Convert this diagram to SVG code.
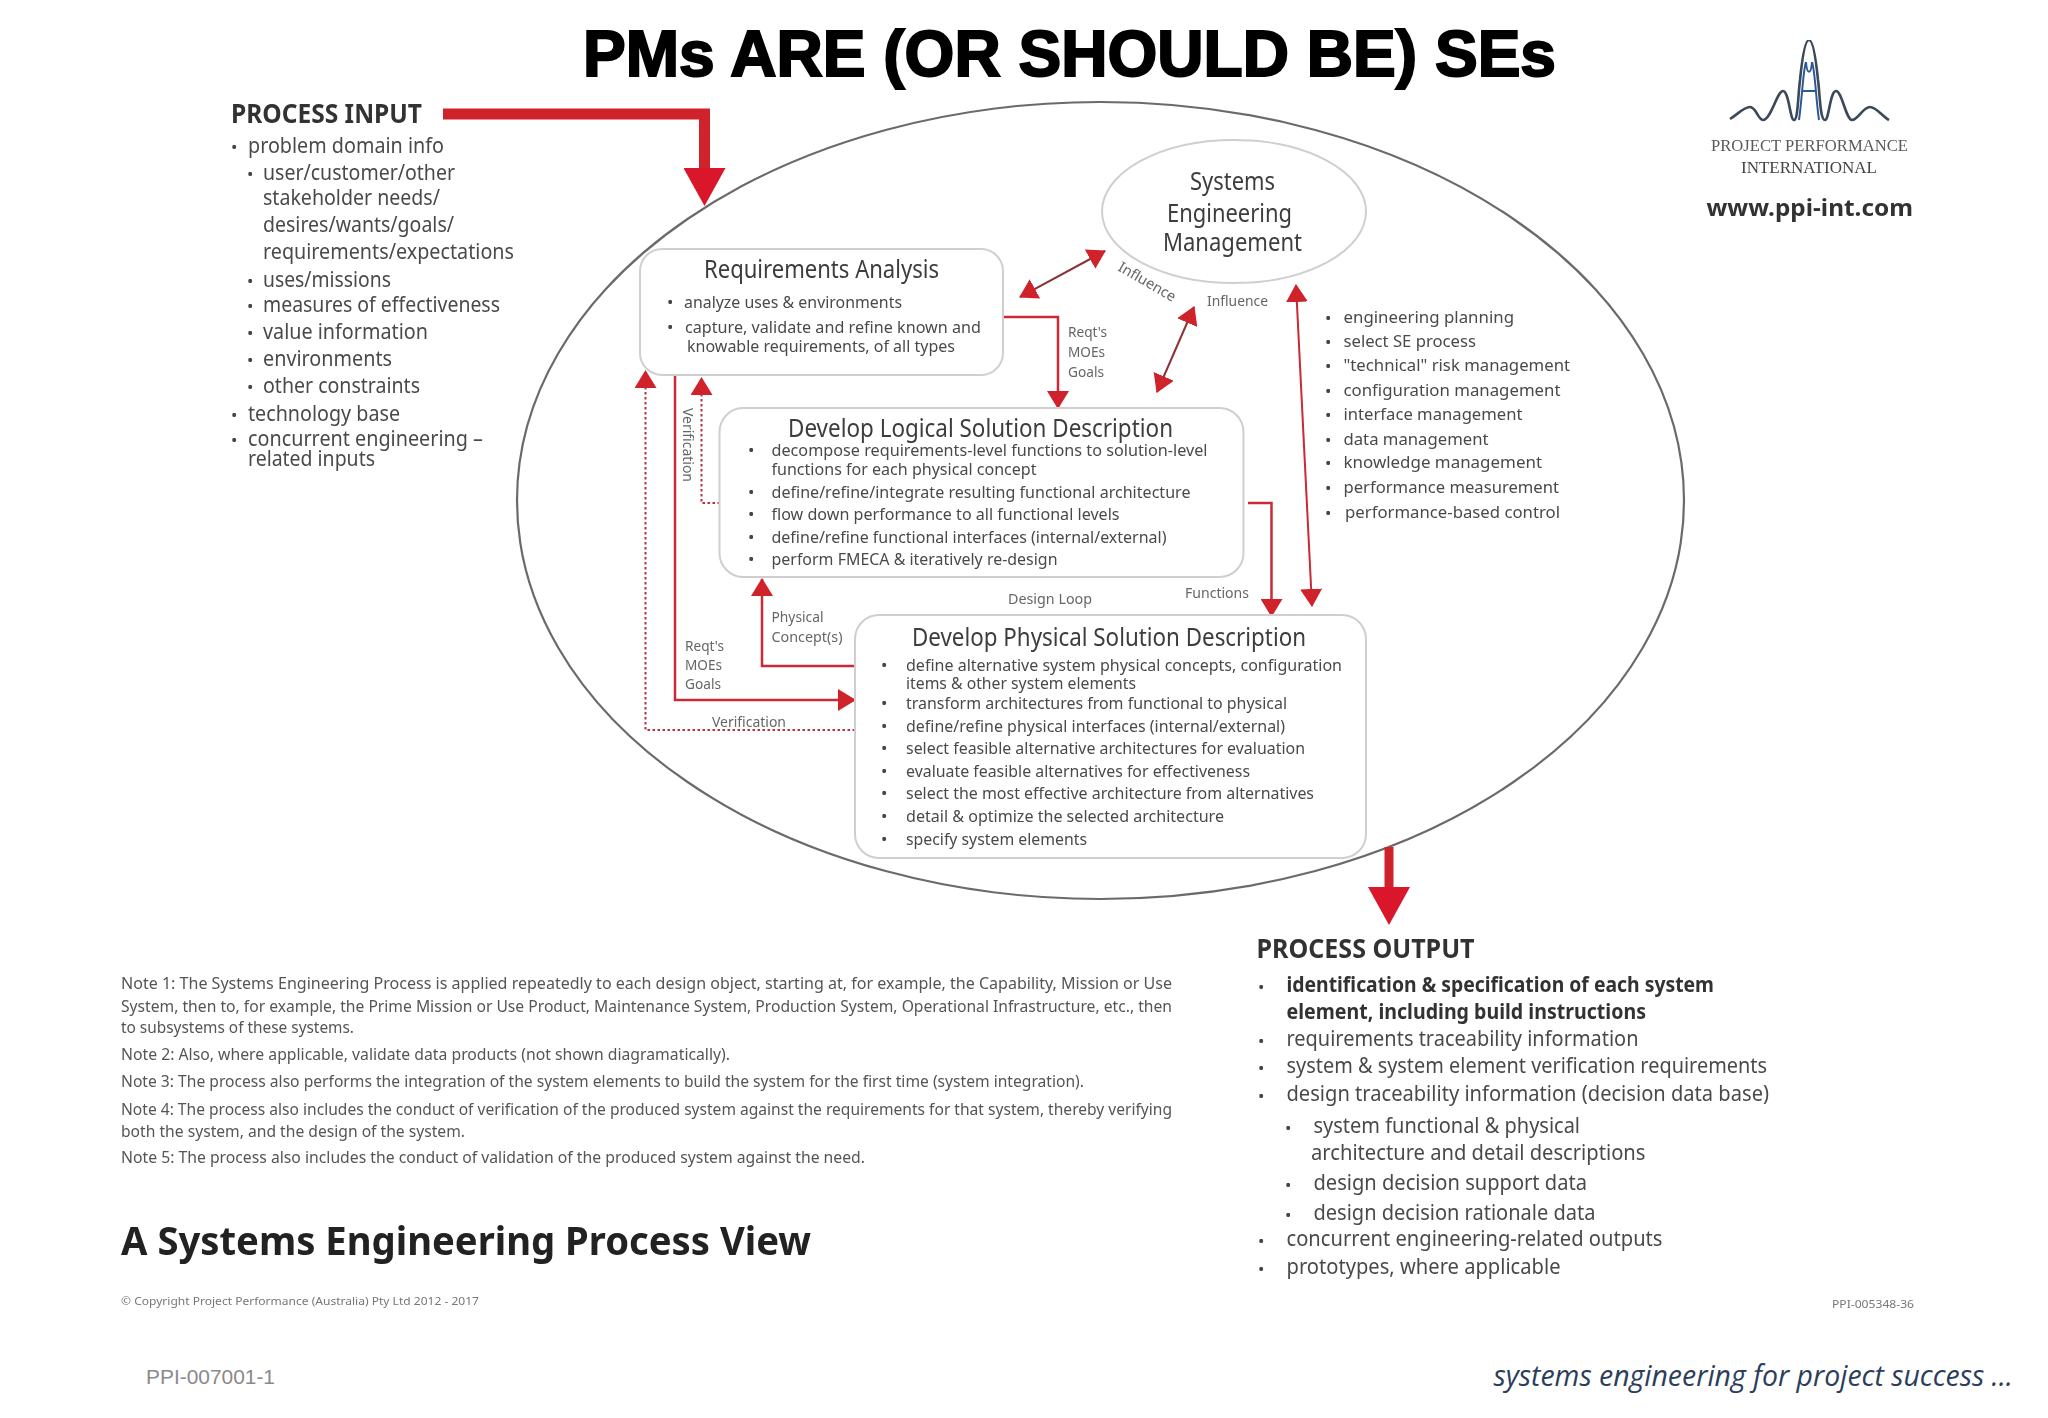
<svg xmlns="http://www.w3.org/2000/svg" width="2048" height="1418" viewBox="0 0 2048 1418">
<style>
text{font-family:"Noto Sans","Open Sans","DejaVu Sans",sans-serif;fill:#4a4a4a}
.title{font-family:"Liberation Sans",Arial,sans-serif;font-weight:700;font-size:64px;fill:#000;stroke:#000;stroke-width:2}
.h{font-weight:700;font-size:26px;fill:#333}
.l{font-size:22px}
.lb{font-size:22px;font-weight:700;fill:#333}
.bt{font-size:25px;fill:#3c3c3c}
.i{font-size:17px}
.s{font-size:14.5px;fill:#666}
.n{font-size:15.5px;fill:#555}
.d{font-size:17px;fill:#444}
.box{fill:#fff;stroke:#cfcfcf;stroke-width:2}
.wire{fill:none;stroke:#c92a34;stroke-width:2.5}
.big{fill:none;stroke:#d0202c;stroke-width:11}
.dash{fill:none;stroke:#b83040;stroke-width:2;stroke-dasharray:2.5 2.5}
.dark{fill:none;stroke:#8a3038;stroke-width:2}
#requirements-analysis text:not(.d),#develop-logical-solution text:not(.d),#develop-physical-solution text:not(.d),#systems-engineering-management text{transform:translateY(1px)}
#requirements-analysis .d,#develop-logical-solution .d,#develop-physical-solution .d,#management-activities .d{transform:translateY(1px)}
#process-output text.l:not(.d),#process-output text.lb{transform:translateY(-1px)}
</style>
<defs>
<filter id="soft" x="0" y="0" width="1" height="1"><feGaussianBlur stdDeviation="0.55"/></filter>
<marker id="ah" markerUnits="userSpaceOnUse" markerWidth="20" markerHeight="22" refX="17" refY="11" orient="auto-start-reverse"><path d="M0 0L18 11L0 22Z" fill="#d0202c"/></marker>
<marker id="bh" markerUnits="userSpaceOnUse" markerWidth="40" markerHeight="42" refX="1" refY="21" orient="auto"><path d="M0 0L38 21L0 42Z" fill="#d9162a"/></marker>
</defs>
<rect width="2048" height="1418" fill="#fff"/>
<text class="title" x="583" y="76" textLength="973" lengthAdjust="spacingAndGlyphs">PMs ARE (OR SHOULD BE) SEs</text>

<g filter="url(#soft)">
<ellipse id="process-boundary" cx="1100.5" cy="500.5" rx="583.5" ry="398.5" fill="#fff" stroke="#6a6a6a" stroke-width="2.2"/>

<g id="process-input">
<text class="h" x="231" y="123" textLength="191" lengthAdjust="spacingAndGlyphs">PROCESS INPUT</text>
<text class="d" x="231" y="153">•</text><text class="l" x="248" y="153" textLength="196" lengthAdjust="spacingAndGlyphs">problem domain info</text>
<text class="d" x="247" y="180">•</text><text class="l" x="263" y="180" textLength="192" lengthAdjust="spacingAndGlyphs">user/customer/other</text>
<text class="l" x="263" y="205" textLength="177" lengthAdjust="spacingAndGlyphs">stakeholder needs/</text>
<text class="l" x="263" y="232" textLength="191" lengthAdjust="spacingAndGlyphs">desires/wants/goals/</text>
<text class="l" x="263" y="259" textLength="251" lengthAdjust="spacingAndGlyphs">requirements/expectations</text>
<text class="d" x="247" y="287">•</text><text class="l" x="263" y="287" textLength="128" lengthAdjust="spacingAndGlyphs">uses/missions</text>
<text class="d" x="247" y="312">•</text><text class="l" x="263" y="312" textLength="237" lengthAdjust="spacingAndGlyphs">measures of effectiveness</text>
<text class="d" x="247" y="339">•</text><text class="l" x="263" y="339" textLength="165" lengthAdjust="spacingAndGlyphs">value information</text>
<text class="d" x="247" y="366">•</text><text class="l" x="263" y="366" textLength="129" lengthAdjust="spacingAndGlyphs">environments</text>
<text class="d" x="247" y="393">•</text><text class="l" x="263" y="393" textLength="157" lengthAdjust="spacingAndGlyphs">other constraints</text>
<text class="d" x="231" y="421">•</text><text class="l" x="248" y="421" textLength="152" lengthAdjust="spacingAndGlyphs">technology base</text>
<text class="d" x="231" y="446">•</text><text class="l" x="248" y="446" textLength="235" lengthAdjust="spacingAndGlyphs">concurrent engineering –</text>
<text class="l" x="248" y="466" textLength="127" lengthAdjust="spacingAndGlyphs">related inputs</text>
</g>

<g id="connectors">
<path class="big" d="M443 114H704.5V169" marker-end="url(#bh)"/>
<path class="big" style="stroke-width:9" d="M1389 847V888" marker-end="url(#bh)"/>
<path class="wire" d="M1003 317H1058V408" marker-end="url(#ah)"/>
<path class="wire" d="M1248 503H1271.5V616" marker-end="url(#ah)"/>
<path class="wire" d="M855 666H762V579" marker-end="url(#ah)"/>
<path class="wire" d="M675 375V700H855" marker-end="url(#ah)"/>
<path class="dash" d="M855 730H645.5V371" marker-end="url(#ah)"/>
<path class="dash" d="M720 503H701.5V378" marker-end="url(#ah)"/>
<path class="dark" d="M1020 297L1105 251" marker-start="url(#ah)" marker-end="url(#ah)"/>
<path class="dark" d="M1157 392L1194 307" marker-start="url(#ah)" marker-end="url(#ah)"/>
<path class="wire" style="stroke-width:2" d="M1296 285L1312 606" marker-start="url(#ah)" marker-end="url(#ah)"/>
</g>

<g id="systems-engineering-management">
<ellipse class="box" cx="1234" cy="211.5" rx="132" ry="71.5"/>
<text class="bt" x="1190" y="189" textLength="85" lengthAdjust="spacingAndGlyphs">Systems</text>
<text class="bt" x="1167" y="221" textLength="125" lengthAdjust="spacingAndGlyphs">Engineering</text>
<text class="bt" x="1163" y="250" textLength="139" lengthAdjust="spacingAndGlyphs">Management</text>
</g>

<g id="requirements-analysis">
<rect class="box" x="640" y="249" width="363" height="126" rx="22"/>
<text class="bt" x="704" y="277" textLength="235" lengthAdjust="spacingAndGlyphs">Requirements Analysis</text>
<text class="d" x="667" y="307">•</text><text class="i" x="684" y="307" textLength="218" lengthAdjust="spacingAndGlyphs">analyze uses &amp; environments</text>
<text class="d" x="667" y="332">•</text><text class="i" x="685" y="332" textLength="296" lengthAdjust="spacingAndGlyphs">capture, validate and refine known and</text>
<text class="i" x="687" y="351" textLength="268" lengthAdjust="spacingAndGlyphs">knowable requirements, of all types</text>
</g>

<g id="develop-logical-solution">
<rect class="box" x="719.5" y="408" width="524" height="169" rx="24"/>
<text class="bt" x="788" y="436" textLength="385" lengthAdjust="spacingAndGlyphs">Develop Logical Solution Description</text>
<text class="d" x="748" y="455">•</text><text class="i" x="771.5" y="455" textLength="436" lengthAdjust="spacingAndGlyphs">decompose requirements-level functions to solution-level</text>
<text class="i" x="771.5" y="474" textLength="265" lengthAdjust="spacingAndGlyphs">functions for each physical concept</text>
<text class="d" x="748" y="497">•</text><text class="i" x="771.5" y="497" textLength="419" lengthAdjust="spacingAndGlyphs">define/refine/integrate resulting functional architecture</text>
<text class="d" x="748" y="519">•</text><text class="i" x="771.5" y="519" textLength="348" lengthAdjust="spacingAndGlyphs">flow down performance to all functional levels</text>
<text class="d" x="748" y="542">•</text><text class="i" x="771.5" y="542" textLength="395" lengthAdjust="spacingAndGlyphs">define/refine functional interfaces (internal/external)</text>
<text class="d" x="748" y="564">•</text><text class="i" x="771.5" y="564" textLength="286" lengthAdjust="spacingAndGlyphs">perform FMECA &amp; iteratively re-design</text>
</g>

<g id="develop-physical-solution">
<rect class="box" x="855" y="615" width="511" height="243" rx="24"/>
<text class="bt" x="912" y="645" textLength="394" lengthAdjust="spacingAndGlyphs">Develop Physical Solution Description</text>
<text class="d" x="881" y="670">•</text><text class="i" x="906" y="670" textLength="436" lengthAdjust="spacingAndGlyphs">define alternative system physical concepts, configuration</text>
<text class="i" x="906" y="688" textLength="230" lengthAdjust="spacingAndGlyphs">items &amp; other system elements</text>
<text class="d" x="881" y="708">•</text><text class="i" x="906" y="708" textLength="381" lengthAdjust="spacingAndGlyphs">transform architectures from functional to physical</text>
<text class="d" x="881" y="731">•</text><text class="i" x="906" y="731" textLength="379" lengthAdjust="spacingAndGlyphs">define/refine physical interfaces (internal/external)</text>
<text class="d" x="881" y="753">•</text><text class="i" x="906" y="753" textLength="399" lengthAdjust="spacingAndGlyphs">select feasible alternative architectures for evaluation</text>
<text class="d" x="881" y="776">•</text><text class="i" x="906" y="776" textLength="344" lengthAdjust="spacingAndGlyphs">evaluate feasible alternatives for effectiveness</text>
<text class="d" x="881" y="798">•</text><text class="i" x="906" y="798" textLength="408" lengthAdjust="spacingAndGlyphs">select the most effective architecture from alternatives</text>
<text class="d" x="881" y="821">•</text><text class="i" x="906" y="821" textLength="318" lengthAdjust="spacingAndGlyphs">detail &amp; optimize the selected architecture</text>
<text class="d" x="881" y="844">•</text><text class="i" x="906" y="844" textLength="181" lengthAdjust="spacingAndGlyphs">specify system elements</text>
</g>

<g id="connector-labels">
<text class="s" x="1068" y="337" textLength="39" lengthAdjust="spacingAndGlyphs">Reqt's</text>
<text class="s" x="1068" y="357" textLength="37" lengthAdjust="spacingAndGlyphs">MOEs</text>
<text class="s" x="1068" y="377" textLength="36" lengthAdjust="spacingAndGlyphs">Goals</text>
<text class="s" transform="translate(1117 270) rotate(30)" textLength="64" lengthAdjust="spacingAndGlyphs">Influence</text>
<text class="s" x="1207" y="306" textLength="61" lengthAdjust="spacingAndGlyphs">Influence</text>
<text class="s" transform="translate(683 408) rotate(90)" textLength="74" lengthAdjust="spacingAndGlyphs">Verification</text>
<text class="s" x="1185" y="598" textLength="64" lengthAdjust="spacingAndGlyphs">Functions</text>
<text class="s" x="1008" y="604" textLength="84" lengthAdjust="spacingAndGlyphs">Design Loop</text>
<text class="s" x="771.5" y="622" textLength="52" lengthAdjust="spacingAndGlyphs">Physical</text>
<text class="s" x="771.5" y="642" textLength="71" lengthAdjust="spacingAndGlyphs">Concept(s)</text>
<text class="s" x="685" y="651" textLength="39" lengthAdjust="spacingAndGlyphs">Reqt's</text>
<text class="s" x="685" y="670" textLength="37" lengthAdjust="spacingAndGlyphs">MOEs</text>
<text class="s" x="685" y="689" textLength="36" lengthAdjust="spacingAndGlyphs">Goals</text>
<text class="s" x="712" y="727" textLength="74" lengthAdjust="spacingAndGlyphs">Verification</text>
</g>

<g id="management-activities">
<text class="d" x="1325" y="323">•</text><text class="i" x="1343.5" y="323" textLength="170.5" lengthAdjust="spacingAndGlyphs">engineering planning</text>
<text class="d" x="1325" y="347">•</text><text class="i" x="1343.5" y="347" textLength="132.5" lengthAdjust="spacingAndGlyphs">select SE process</text>
<text class="d" x="1325" y="371">•</text><text class="i" x="1343.5" y="371" textLength="226.5" lengthAdjust="spacingAndGlyphs">"technical" risk management</text>
<text class="d" x="1325" y="396">•</text><text class="i" x="1343.5" y="396" textLength="217" lengthAdjust="spacingAndGlyphs">configuration management</text>
<text class="d" x="1325" y="420">•</text><text class="i" x="1343.5" y="420" textLength="179" lengthAdjust="spacingAndGlyphs">interface management</text>
<text class="d" x="1325" y="445">•</text><text class="i" x="1343.5" y="445" textLength="145" lengthAdjust="spacingAndGlyphs">data management</text>
<text class="d" x="1325" y="468">•</text><text class="i" x="1343.5" y="468" textLength="198.5" lengthAdjust="spacingAndGlyphs">knowledge management</text>
<text class="d" x="1325" y="493">•</text><text class="i" x="1343.5" y="493" textLength="215.5" lengthAdjust="spacingAndGlyphs">performance measurement</text>
<text class="d" x="1325" y="518">•</text><text class="i" x="1345" y="518" textLength="215" lengthAdjust="spacingAndGlyphs">performance-based control</text>
</g>

<g id="logo">
<path d="M1730 119C1738 114 1744 107 1750 107C1756 107 1758 120 1763 120C1771 120 1777 91 1783 91C1789 91 1790 120 1794 120C1798 120 1798 95 1800 80C1802 60 1805 40 1809 40C1813 40 1816 60 1818 80C1820 95 1820 120 1825 120C1829 120 1830 91 1836 91C1842 91 1846 120 1852 120C1858 120 1863 107 1870 107C1876 107 1882 116 1889 120" fill="none" stroke="#3a4858" stroke-width="2.6"/>
<path d="M1799 120C1802 100 1803 70 1806 62M1819 120C1816 100 1815 70 1812 62M1803 91H1815M1806 62C1807 75 1811 75 1812 62" fill="none" stroke="#2c5a96" stroke-width="2"/>
<text style="font-family:'Liberation Serif',serif;font-size:16.5px;fill:#5a5a5a" x="1711" y="151" textLength="197" lengthAdjust="spacingAndGlyphs">PROJECT PERFORMANCE</text>
<text style="font-family:'Liberation Serif',serif;font-size:16.5px;fill:#444" x="1741" y="173" textLength="136" lengthAdjust="spacingAndGlyphs">INTERNATIONAL</text>
<text style="font-weight:700;font-size:24px;fill:#333" x="1706.5" y="216" textLength="206.5" lengthAdjust="spacingAndGlyphs">www.ppi-int.com</text>
</g>

<g id="process-output">
<text class="h" x="1256.5" y="958" textLength="218" lengthAdjust="spacingAndGlyphs">PROCESS OUTPUT</text>
<text class="d" x="1258" y="993">•</text><text class="lb" x="1286.5" y="993" textLength="427.5" lengthAdjust="spacingAndGlyphs">identification &amp; specification of each system</text>
<text class="lb" x="1286.5" y="1020" textLength="359.5" lengthAdjust="spacingAndGlyphs">element, including build instructions</text>
<text class="d" x="1258" y="1047">•</text><text class="l" x="1286.5" y="1047" textLength="352" lengthAdjust="spacingAndGlyphs">requirements traceability information</text>
<text class="d" x="1258" y="1074">•</text><text class="l" x="1286.5" y="1074" textLength="480.5" lengthAdjust="spacingAndGlyphs">system &amp; system element verification requirements</text>
<text class="d" x="1258" y="1102">•</text><text class="l" x="1286.5" y="1102" textLength="482.5" lengthAdjust="spacingAndGlyphs">design traceability information (decision data base)</text>
<text class="d" x="1285" y="1134">•</text><text class="l" x="1313.5" y="1134" textLength="266.5" lengthAdjust="spacingAndGlyphs">system functional &amp; physical</text>
<text class="l" x="1311" y="1161" textLength="334.5" lengthAdjust="spacingAndGlyphs">architecture and detail descriptions</text>
<text class="d" x="1285" y="1191">•</text><text class="l" x="1313.5" y="1191" textLength="273.5" lengthAdjust="spacingAndGlyphs">design decision support data</text>
<text class="d" x="1285" y="1221">•</text><text class="l" x="1313.5" y="1221" textLength="282" lengthAdjust="spacingAndGlyphs">design decision rationale data</text>
<text class="d" x="1258" y="1247">•</text><text class="l" x="1286.5" y="1247" textLength="376" lengthAdjust="spacingAndGlyphs">concurrent engineering-related outputs</text>
<text class="d" x="1258" y="1275">•</text><text class="l" x="1286.5" y="1275" textLength="274" lengthAdjust="spacingAndGlyphs">prototypes, where applicable</text>
</g>

<g id="notes">
<text class="n" x="121" y="989" textLength="1051" lengthAdjust="spacingAndGlyphs">Note 1: The Systems Engineering Process is applied repeatedly to each design object, starting at, for example, the Capability, Mission or Use</text>
<text class="n" x="121" y="1012" textLength="1051" lengthAdjust="spacingAndGlyphs">System, then to, for example, the Prime Mission or Use Product, Maintenance System, Production System, Operational Infrastructure, etc., then</text>
<text class="n" x="121" y="1033" textLength="233" lengthAdjust="spacingAndGlyphs">to subsystems of these systems.</text>
<text class="n" x="121" y="1060" textLength="609" lengthAdjust="spacingAndGlyphs">Note 2: Also, where applicable, validate data products (not shown diagramatically).</text>
<text class="n" x="121" y="1087" textLength="963" lengthAdjust="spacingAndGlyphs">Note 3: The process also performs the integration of the system elements to build the system for the first time (system integration).</text>
<text class="n" x="121" y="1115" textLength="1051" lengthAdjust="spacingAndGlyphs">Note 4: The process also includes the conduct of verification of the produced system against the requirements for that system, thereby verifying</text>
<text class="n" x="121" y="1137" textLength="344" lengthAdjust="spacingAndGlyphs">both the system, and the design of the system.</text>
<text class="n" x="121" y="1163" textLength="744" lengthAdjust="spacingAndGlyphs">Note 5: The process also includes the conduct of validation of the produced system against the need.</text>
</g>

<g id="captions">
<text style="font-weight:700;font-size:39px;fill:#222" x="121" y="1255" textLength="690" lengthAdjust="spacingAndGlyphs">A Systems Engineering Process View</text>
<text style="font-size:11px;fill:#777" x="121" y="1305" textLength="358" lengthAdjust="spacingAndGlyphs">© Copyright Project Performance (Australia) Pty Ltd 2012 - 2017</text>
<text style="font-size:11px;fill:#777" x="1832" y="1308" textLength="82" lengthAdjust="spacingAndGlyphs">PPI-005348-36</text>
</g>
</g>

<g id="footer">
<text style="font-family:'Liberation Sans',Arial,sans-serif;font-size:21px;fill:#8a8a8a" x="146" y="1384" textLength="129" lengthAdjust="spacingAndGlyphs">PPI-007001-1</text>
<text style="font-family:'Open Sans',sans-serif;font-style:italic;font-size:29px;fill:#2c3e5a" x="1493.5" y="1386" textLength="519.5" lengthAdjust="spacingAndGlyphs">systems engineering for project success ...</text>
</g>
</svg>
